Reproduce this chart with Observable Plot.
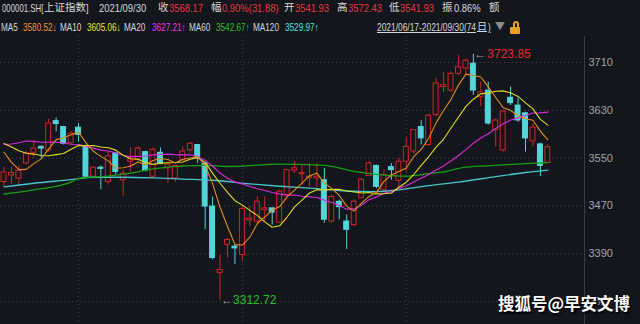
<!DOCTYPE html>
<html><head><meta charset="utf-8">
<script src="https://cdn.jsdelivr.net/npm/d3@7"></script>
<script src="https://cdn.jsdelivr.net/npm/@observablehq/plot@0.6"></script>
<style>
html,body{margin:0;padding:0;background:#13161c;}
#root{position:relative;width:640px;height:324px;overflow:hidden;background:#13161c;color:#d8d8d8;}
.h{position:absolute;white-space:nowrap;line-height:14px;}
.n{font-family:"Liberation Sans",sans-serif;font-size:11.5px;transform:scaleX(0.82);transform-origin:0 0;}
.m{font-family:"Liberation Sans",sans-serif;font-size:10.5px;transform:scaleX(0.78);transform-origin:0 0;}
.c{font-family:"Noto Sans CJK SC",sans-serif;font-size:10.5px;}
.r{color:#e8353a;}
.u{text-decoration:underline;}
#chart{position:absolute;left:0;top:36px;}
#wm{position:absolute;left:498px;top:291px;font-family:"Noto Sans CJK SC",sans-serif;font-weight:bold;font-size:16.5px;color:#fff;text-shadow:1px 1px 1px #000,2px 2px 2px #000;white-space:nowrap;}
#lock{position:absolute;left:510px;top:27px;width:10px;height:7px;background:#e8a020;border-radius:1px;}
#shackle{position:absolute;left:513px;top:21px;width:6px;height:7px;border:2px solid #e8a020;border-bottom:none;border-radius:4px 4px 0 0;box-sizing:border-box;}
</style></head><body>
<div id="root">
  <div class="h n" style="left:2px;top:1px;transform:scaleX(0.68)">000001.SH[</div>
  <div class="h c" style="left:44px;top:0">上证指数</div>
  <div class="h n" style="left:86px;top:1px">]</div>
  <div class="h n" style="left:99px;top:1px">2021/09/30</div>
  <div class="h c" style="left:158px;top:0">收</div>
  <div class="h n r" style="left:169px;top:1px">3568.17</div>
  <div class="h c" style="left:211px;top:0">幅</div>
  <div class="h n r" style="left:222px;top:1px">0.90%(31.88)</div>
  <div class="h c" style="left:284px;top:0">开</div>
  <div class="h n r" style="left:295px;top:1px">3541.93</div>
  <div class="h c" style="left:337px;top:0">高</div>
  <div class="h n r" style="left:348px;top:1px">3572.43</div>
  <div class="h c" style="left:389px;top:0">低</div>
  <div class="h n r" style="left:400px;top:1px">3541.93</div>
  <div class="h c" style="left:442px;top:0">振</div>
  <div class="h n" style="left:454px;top:1px">0.86%</div>
  <div class="h c" style="left:489px;top:0">额</div>

  <div class="h m" style="left:1px;top:20px">MA5</div>
  <div class="h m" style="left:23px;top:20px;color:#f09a28">3580.52↓</div>
  <div class="h m" style="left:60px;top:20px">MA10</div>
  <div class="h m" style="left:87px;top:20px;color:#e8e420">3605.06↓</div>
  <div class="h m" style="left:124px;top:20px">MA20</div>
  <div class="h m" style="left:152px;top:20px;color:#f030f0">3627.21↑</div>
  <div class="h m" style="left:189px;top:20px">MA60</div>
  <div class="h m" style="left:216px;top:20px;color:#22c222">3542.67↑</div>
  <div class="h m" style="left:253px;top:20px">MA120</div>
  <div class="h m" style="left:285px;top:20px;color:#44e0e0">3529.97↑</div>
  <div class="h m u" style="left:377px;top:20px;transform:scaleX(0.8)">2021/06/17-2021/09/30(74</div>
  <div class="h c u" style="left:477px;top:19px;font-size:10px">日</div>
  <div class="h m u" style="left:488px;top:20px">)</div>
  <div class="h c" style="left:495px;top:19px;color:#8a8a8a;font-size:10px">▼</div>
  <div id="shackle"></div><div id="lock"></div>

  <div id="chart"></div>
  <div id="wm">搜狐号@早安文博</div>
</div>
<script>
// Daily OHLC, 2021/06/17 – 2021/09/30 (74 sessions)
const opens  = [3510,3521,3516,3541,3559,3569,3563,3612,3602,3575,3601,3570,3519,3534,3510,3558,3513,3544,3547,3560,3519,3559,3533,3516,3547,3563,3572,3541,3469,3358,3405,3402,3388,3446,3444,3463,3466,3442,3488,3529,3523,3517,3516,3513,3444,3477,3444,3438,3483,3520,3537,3497,3535,3512,3544,3561,3602,3572,3622,3669,3663,3691,3700,3708,3652,3663,3597,3563,3651,3638,3625,3578,3573,3541.93];
const highs  = [3535,3535,3538,3561,3577,3570,3615,3617,3603,3595,3608,3572,3535,3537,3560,3560,3530,3567,3569,3562,3567,3567,3544,3538,3569,3576,3572,3541,3485,3388,3416,3405,3469,3469,3485,3485,3466,3497,3531,3544,3538,3541,3541,3533,3488,3480,3455,3480,3516,3544,3538,3530,3541,3550,3583,3598,3613,3623,3683,3694,3694,3722,3716,3723.85,3677,3677,3616,3630,3669,3650,3627,3608,3575,3572.43];
const lows   = [3502,3506,3505,3538,3550,3550,3560,3594,3572,3573,3577,3516,3516,3497,3505,3522,3486,3527,3544,3527,3517,3539,3508,3510,3544,3558,3541,3430,3380,3312.72,3383,3372,3378,3436,3441,3444,3438,3441,3485,3524,3505,3502,3500,3441,3441,3447,3397,3435,3483,3519,3499,3494,3513,3500,3527,3556,3572,3570,3619,3660,3660,3688,3690,3655,3636,3605,3569,3560,3638,3610,3560,3569,3519,3541.93];
const closes = [3526,3525,3529,3558,3566,3566,3608,3607,3574,3591,3589,3519,3534,3532,3553,3527,3524,3548,3566,3529,3564,3540,3539,3537,3561,3574,3550,3469,3383,3363,3413,3399,3465,3449,3477,3466,3459,3494,3530,3533,3525,3519,3519,3447,3485,3468,3430,3477,3514,3541,3502,3522,3530,3544,3569,3597,3583,3621,3675,3672,3691,3702,3713,3663,3660,3608,3613,3628,3642,3613,3583,3601,3537,3568.17];
// 19 closes before 2021/06/17 (needed for MA5/10/20 at the left edge)
const priorCloses = [3507,3487,3497,3581,3593,3608,3600,3615,3624,3597,3584,3592,3599,3580,3591,3610,3589,3556,3518];
// MA60 / MA120 (session index, value)
const ma60Idx  = [0,4,9,10,14,17,20,24,27,30,37,43,47,50,54,57,59,62,66,70,73];
const ma60Val  = [3490,3497,3510,3516,3520,3525,3532,3537,3538,3536,3540,3538,3528,3523,3520,3524,3527,3535,3538,3541,3542.67];
const ma120Idx = [0,4,9,12,16,20,24,28,33,37,42,46,50,53,57,61,66,70,73];
const ma120Val = [3502,3508,3514,3518,3518,3517,3515,3513,3507,3503,3499,3495,3494,3497,3504,3510,3519,3526,3529.97];
const monthStartIdx = [10,32,54];           // 07/01, 08/02, 09/01
const yTicks = [3310,3390,3470,3550,3630,3710];

const candles = closes.map((c,i)=>({i, open:opens[i], high:highs[i], low:lows[i], close:c, up:c>=opens[i]}));
const all = priorCloses.concat(closes);
const ma = n => closes.map((_,i)=>({i, v: d3.mean(all.slice(i+priorCloses.length-n+1, i+priorCloses.length+1))}));
const ma5 = ma(5), ma10 = ma(10), ma20 = ma(20);
const ma60 = ma60Idx.map((i,k)=>({i, v:ma60Val[k]}));
const ma120 = ma120Idx.map((i,k)=>({i, v:ma120Val[k]}));
const hiIdx = d3.maxIndex(highs), loIdx = d3.minIndex(lows);
const hiPt = [{i:hiIdx, v:highs[hiIdx]}], loPt = [{i:loIdx, v:lows[loIdx]}];

const BG = "#13161c", RED = "#d42424", CY = "#52d6dc";
const chart = Plot.plot({
  width: 640, height: 288,
  marginLeft: 0, marginRight: 56, marginTop: 0, marginBottom: 0,
  style: {background: "transparent", color: "#a4a4a4", fontSize: "11px", fontFamily: "Liberation Sans, Noto Sans CJK SC, sans-serif"},
  x: {domain: [-0.47, 77.92], axis: null},
  y: {domain: [3271.7, 3753.5], axis: null},
  marks: [
    Plot.ruleY(yTicks, {stroke: "#41454d", strokeDasharray: "1,3"}),
    Plot.ruleX(monthStartIdx, {stroke: "#41454d", strokeDasharray: "1,3"}),
    Plot.frame({anchor: "right", stroke: "#3a3d44"}),
    Plot.axisY(yTicks, {anchor: "right", tickSize: 0, tickPadding: 4, tickFormat: d3.format("d"), fill: "#a4a4a4", fontSize: 11}),
    Plot.ruleX(candles, {x: "i", y1: "low", y2: "high", stroke: d => d.up ? RED : CY, strokeWidth: 1}),
    Plot.rect(candles, {x1: d => d.i - 0.33, x2: d => d.i + 0.33, y1: "open", y2: "close",
      fill: d => d.up ? BG : CY, stroke: d => d.up ? RED : CY, strokeWidth: 1}),
    Plot.line(ma120, {x: "i", y: "v", stroke: "#48c4cc", strokeWidth: 1.3, curve: "monotone-x"}),
    Plot.line(ma60, {x: "i", y: "v", stroke: "#14a014", strokeWidth: 1.3, curve: "monotone-x"}),
    Plot.line(ma20, {x: "i", y: "v", stroke: "#dc28dc", strokeWidth: 1.1}),
    Plot.line(ma10, {x: "i", y: "v", stroke: "#e0dc1e", strokeWidth: 1.1}),
    Plot.line(ma5, {x: "i", y: "v", stroke: "#e58a19", strokeWidth: 1.1}),
    Plot.text(hiPt, {x: "i", y: "v", text: () => "←", dx: 1, textAnchor: "start", fill: "#9a9a9a", fontSize: 12}),
    Plot.text(hiPt, {x: "i", y: "v", text: d => d.v.toFixed(2), dx: 14, textAnchor: "start", fill: "#e0282d", fontSize: 12}),
    Plot.text(loPt, {x: "i", y: "v", text: () => "←", dx: 1, textAnchor: "start", fill: "#9a9a9a", fontSize: 12}),
    Plot.text(loPt, {x: "i", y: "v", text: d => d.v.toFixed(2), dx: 13, textAnchor: "start", fill: "#22c222", fontSize: 12})
  ]
});
document.getElementById("chart").appendChild(chart);
</script>
</body></html>
